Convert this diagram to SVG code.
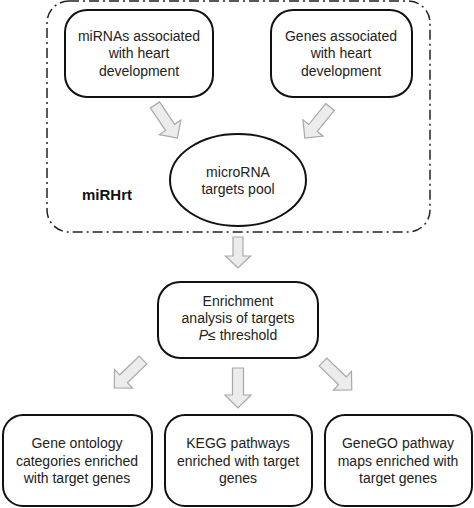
<svg xmlns="http://www.w3.org/2000/svg" width="474" height="508" viewBox="0 0 474 508">
<defs>
<style>
.box{fill:#fff;stroke:#111;stroke-width:2}
.t{font-family:"Liberation Sans",Arial,sans-serif;font-size:14px;fill:#222;text-anchor:middle}
.ar{fill:#ececec;stroke:#a8a8a8;stroke-width:1.2;stroke-linejoin:miter}
</style>
<path id="a31" d="M-5,0 L5,0 L5,19 L12.5,19 L0,31 L-12.5,19 L-5,19 Z"/>
<path id="a40" d="M-5.5,0 L5.5,0 L5.5,27 L13,27 L0,40 L-13,27 L-5.5,27 Z"/>
</defs>
<rect width="474" height="508" fill="#fff"/>
<g id="container">
<rect x="47" y="1" width="383" height="231" rx="22" fill="none" stroke="#222" stroke-width="1.5" stroke-dasharray="10,4,2,4"/>
<text x="82" y="200" font-family="'Liberation Sans',Arial,sans-serif" font-size="15" font-weight="bold" fill="#111">miRHrt</text>
</g>
<g id="connectors">
<use href="#a40" class="ar" transform="translate(155,105) rotate(-34)"/>
<use href="#a40" class="ar" transform="translate(330,107) rotate(39)"/>
<use href="#a31" class="ar" transform="translate(238,237)"/>
<use href="#a40" class="ar" transform="translate(143,360) rotate(46)"/>
<use href="#a40" class="ar" transform="translate(238,368)"/>
<use href="#a40" class="ar" transform="translate(323,362) rotate(-46)"/>
</g>
<g id="mirnas">
<rect class="box" x="65" y="10" width="148" height="87" rx="22"/>
<text class="t"><tspan x="139" y="41">miRNAs associated</tspan><tspan x="139" y="58">with heart</tspan><tspan x="139" y="76">development</tspan></text>
</g>
<g id="genes">
<rect class="box" x="271" y="10" width="141" height="87" rx="22"/>
<text class="t"><tspan x="341" y="41">Genes associated</tspan><tspan x="341" y="58">with heart</tspan><tspan x="341" y="76">development</tspan></text>
</g>
<g id="pool">
<ellipse class="box" cx="238" cy="180" rx="68" ry="46"/>
<text class="t"><tspan x="238" y="177">microRNA</tspan><tspan x="238" y="194">targets pool</tspan></text>
</g>
<g id="enrichment">
<rect class="box" x="158" y="282" width="160" height="76" rx="22"/>
<text class="t"><tspan x="238" y="306">Enrichment</tspan><tspan x="238" y="323">analysis of targets</tspan><tspan x="238" y="340"><tspan font-style="italic">P</tspan>≤ threshold</tspan></text>
</g>
<g id="go">
<rect class="box" x="3" y="415" width="149" height="91" rx="20"/>
<text class="t"><tspan x="77" y="448">Gene ontology</tspan><tspan x="77" y="466">categories enriched</tspan><tspan x="77" y="483">with target genes</tspan></text>
</g>
<g id="kegg">
<rect class="box" x="165" y="415" width="147" height="91" rx="20"/>
<text class="t"><tspan x="238" y="448">KEGG pathways</tspan><tspan x="238" y="466">enriched with target</tspan><tspan x="238" y="483">genes</tspan></text>
</g>
<g id="genego">
<rect class="box" x="325" y="415" width="147" height="91" rx="20"/>
<text class="t"><tspan x="398" y="448">GeneGO pathway</tspan><tspan x="398" y="466">maps enriched with</tspan><tspan x="398" y="483">target genes</tspan></text>
</g>
</svg>
